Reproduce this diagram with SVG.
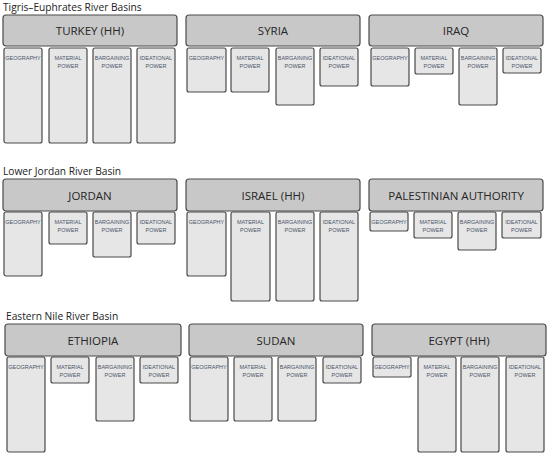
<svg xmlns="http://www.w3.org/2000/svg" width="550" height="457" viewBox="0 0 550 457">
<style>
.bg{fill:#ffffff}
.title{font-family:"Open Sans","Liberation Sans",sans-serif;font-size:10.2px;fill:#222}
.hd{fill:#c8c8c8;stroke:#4a4a4a;stroke-width:1.2}
.hdt{font-family:"Open Sans","Liberation Sans",sans-serif;font-size:11.5px;fill:#262626;text-anchor:middle}
.bx{fill:#e6e6e6;stroke:#4a4a4a;stroke-width:1.2}
.bt{font-family:"Liberation Sans","Open Sans",sans-serif;font-size:5.5px;fill:#4a5468;text-anchor:middle}
</style>
<rect class="bg" x="0" y="0" width="550" height="457"/>
<text class="title" x="3" y="11">Tigris–Euphrates River Basins</text>
<text class="title" x="3" y="175">Lower Jordan River Basin</text>
<text class="title" x="6" y="320">Eastern Nile River Basin</text>

<g id="turkey">
<rect class="hd" x="3" y="15" width="174" height="31" rx="3"/>
<text class="hdt" x="90" y="35">TURKEY (HH)</text>
<g id="turkey-geo"><rect class="bx" x="4" y="48" width="38" height="95" rx="2"/><text class="bt" x="23" y="60">GEOGRAPHY</text></g>
<g id="turkey-mat"><rect class="bx" x="49" y="48" width="38" height="95" rx="2"/><text class="bt" x="68" y="60">MATERIAL</text><text class="bt" x="68" y="67.5">POWER</text></g>
<g id="turkey-bar"><rect class="bx" x="93" y="48" width="38" height="95" rx="2"/><text class="bt" x="112" y="60">BARGAINING</text><text class="bt" x="112" y="67.5">POWER</text></g>
<g id="turkey-ide"><rect class="bx" x="137" y="48" width="38" height="95" rx="2"/><text class="bt" x="156" y="60">IDEATIONAL</text><text class="bt" x="156" y="67.5">POWER</text></g>
</g>

<g id="syria">
<rect class="hd" x="186" y="15" width="174" height="31" rx="3"/>
<text class="hdt" x="273" y="35">SYRIA</text>
<g id="syria-geo"><rect class="bx" x="187" y="48" width="39" height="44" rx="2"/><text class="bt" x="206.5" y="60">GEOGRAPHY</text></g>
<g id="syria-mat"><rect class="bx" x="231" y="48" width="38" height="44" rx="2"/><text class="bt" x="250" y="60">MATERIAL</text><text class="bt" x="250" y="67.5">POWER</text></g>
<g id="syria-bar"><rect class="bx" x="276" y="48" width="38" height="57" rx="2"/><text class="bt" x="295" y="60">BARGAINING</text><text class="bt" x="295" y="67.5">POWER</text></g>
<g id="syria-ide"><rect class="bx" x="320" y="48" width="38" height="38" rx="2"/><text class="bt" x="339" y="60">IDEATIONAL</text><text class="bt" x="339" y="67.5">POWER</text></g>
</g>

<g id="iraq">
<rect class="hd" x="369" y="15" width="174" height="31" rx="3"/>
<text class="hdt" x="456" y="35">IRAQ</text>
<g id="iraq-geo"><rect class="bx" x="371" y="48" width="38" height="38" rx="2"/><text class="bt" x="390" y="60">GEOGRAPHY</text></g>
<g id="iraq-mat"><rect class="bx" x="415" y="48" width="38" height="26" rx="2"/><text class="bt" x="434" y="60">MATERIAL</text><text class="bt" x="434" y="67.5">POWER</text></g>
<g id="iraq-bar"><rect class="bx" x="459" y="48" width="38" height="57" rx="2"/><text class="bt" x="478" y="60">BARGAINING</text><text class="bt" x="478" y="67.5">POWER</text></g>
<g id="iraq-ide"><rect class="bx" x="503" y="48" width="38" height="25" rx="2"/><text class="bt" x="522" y="60">IDEATIONAL</text><text class="bt" x="522" y="67.5">POWER</text></g>
</g>

<g id="jordan">
<rect class="hd" x="3" y="179" width="174" height="32" rx="3"/>
<text class="hdt" x="90" y="199.5">JORDAN</text>
<g id="jordan-geo"><rect class="bx" x="4" y="212" width="38" height="64" rx="2"/><text class="bt" x="23" y="224">GEOGRAPHY</text></g>
<g id="jordan-mat"><rect class="bx" x="49" y="212" width="38" height="32" rx="2"/><text class="bt" x="68" y="224">MATERIAL</text><text class="bt" x="68" y="231.5">POWER</text></g>
<g id="jordan-bar"><rect class="bx" x="93" y="212" width="38" height="45" rx="2"/><text class="bt" x="112" y="224">BARGAINING</text><text class="bt" x="112" y="231.5">POWER</text></g>
<g id="jordan-ide"><rect class="bx" x="137" y="212" width="38" height="32" rx="2"/><text class="bt" x="156" y="224">IDEATIONAL</text><text class="bt" x="156" y="231.5">POWER</text></g>
</g>

<g id="israel">
<rect class="hd" x="186" y="179" width="174" height="32" rx="3"/>
<text class="hdt" x="273" y="199.5">ISRAEL  (HH)</text>
<g id="israel-geo"><rect class="bx" x="187" y="212" width="39" height="64" rx="2"/><text class="bt" x="206.5" y="224">GEOGRAPHY</text></g>
<g id="israel-mat"><rect class="bx" x="231" y="212" width="39" height="89" rx="2"/><text class="bt" x="250.5" y="224">MATERIAL</text><text class="bt" x="250.5" y="231.5">POWER</text></g>
<g id="israel-bar"><rect class="bx" x="276" y="212" width="38" height="89" rx="2"/><text class="bt" x="295" y="224">BARGAINING</text><text class="bt" x="295" y="231.5">POWER</text></g>
<g id="israel-ide"><rect class="bx" x="320" y="212" width="38" height="89" rx="2"/><text class="bt" x="339" y="224">IDEATIONAL</text><text class="bt" x="339" y="231.5">POWER</text></g>
</g>

<g id="palestinian-authority">
<rect class="hd" x="369" y="179" width="174" height="32" rx="3"/>
<text class="hdt" x="456" y="199.5">PALESTINIAN AUTHORITY</text>
<g id="pa-geo"><rect class="bx" x="370" y="212" width="38" height="19" rx="2"/><text class="bt" x="389" y="224">GEOGRAPHY</text></g>
<g id="pa-mat"><rect class="bx" x="414" y="212" width="38" height="26" rx="2"/><text class="bt" x="433" y="224">MATERIAL</text><text class="bt" x="433" y="231.5">POWER</text></g>
<g id="pa-bar"><rect class="bx" x="458" y="212" width="38" height="38" rx="2"/><text class="bt" x="477" y="224">BARGAINING</text><text class="bt" x="477" y="231.5">POWER</text></g>
<g id="pa-ide"><rect class="bx" x="502" y="212" width="39" height="26" rx="2"/><text class="bt" x="521.5" y="224">IDEATIONAL</text><text class="bt" x="521.5" y="231.5">POWER</text></g>
</g>

<g id="ethiopia">
<rect class="hd" x="5" y="324" width="176" height="32" rx="3"/>
<text class="hdt" x="93" y="344.5">ETHIOPIA</text>
<g id="ethiopia-geo"><rect class="bx" x="7" y="357" width="38" height="95" rx="2"/><text class="bt" x="26" y="369">GEOGRAPHY</text></g>
<g id="ethiopia-mat"><rect class="bx" x="51" y="357" width="38" height="26" rx="2"/><text class="bt" x="70" y="369">MATERIAL</text><text class="bt" x="70" y="376.5">POWER</text></g>
<g id="ethiopia-bar"><rect class="bx" x="96" y="357" width="38" height="64" rx="2"/><text class="bt" x="115" y="369">BARGAINING</text><text class="bt" x="115" y="376.5">POWER</text></g>
<g id="ethiopia-ide"><rect class="bx" x="140" y="357" width="38" height="26" rx="2"/><text class="bt" x="159" y="369">IDEATIONAL</text><text class="bt" x="159" y="376.5">POWER</text></g>
</g>

<g id="sudan">
<rect class="hd" x="189" y="324" width="174" height="32" rx="3"/>
<text class="hdt" x="276" y="344.5">SUDAN</text>
<g id="sudan-geo"><rect class="bx" x="190" y="357" width="38" height="64" rx="2"/><text class="bt" x="209" y="369">GEOGRAPHY</text></g>
<g id="sudan-mat"><rect class="bx" x="234" y="357" width="38" height="64" rx="2"/><text class="bt" x="253" y="369">MATERIAL</text><text class="bt" x="253" y="376.5">POWER</text></g>
<g id="sudan-bar"><rect class="bx" x="278" y="357" width="38" height="64" rx="2"/><text class="bt" x="297" y="369">BARGAINING</text><text class="bt" x="297" y="376.5">POWER</text></g>
<g id="sudan-ide"><rect class="bx" x="323" y="357" width="38" height="26" rx="2"/><text class="bt" x="342" y="369">IDEATIONAL</text><text class="bt" x="342" y="376.5">POWER</text></g>
</g>

<g id="egypt">
<rect class="hd" x="372" y="324" width="174" height="32" rx="3"/>
<text class="hdt" x="459" y="344.5">EGYPT (HH)</text>
<g id="egypt-geo"><rect class="bx" x="373" y="357" width="38" height="20" rx="2"/><text class="bt" x="392" y="369">GEOGRAPHY</text></g>
<g id="egypt-mat"><rect class="bx" x="418" y="357" width="38" height="95" rx="2"/><text class="bt" x="437" y="369">MATERIAL</text><text class="bt" x="437" y="376.5">POWER</text></g>
<g id="egypt-bar"><rect class="bx" x="461" y="357" width="38" height="95" rx="2"/><text class="bt" x="480" y="369">BARGAINING</text><text class="bt" x="480" y="376.5">POWER</text></g>
<g id="egypt-ide"><rect class="bx" x="506" y="357" width="38" height="95" rx="2"/><text class="bt" x="525" y="369">IDEATIONAL</text><text class="bt" x="525" y="376.5">POWER</text></g>
</g>
</svg>
